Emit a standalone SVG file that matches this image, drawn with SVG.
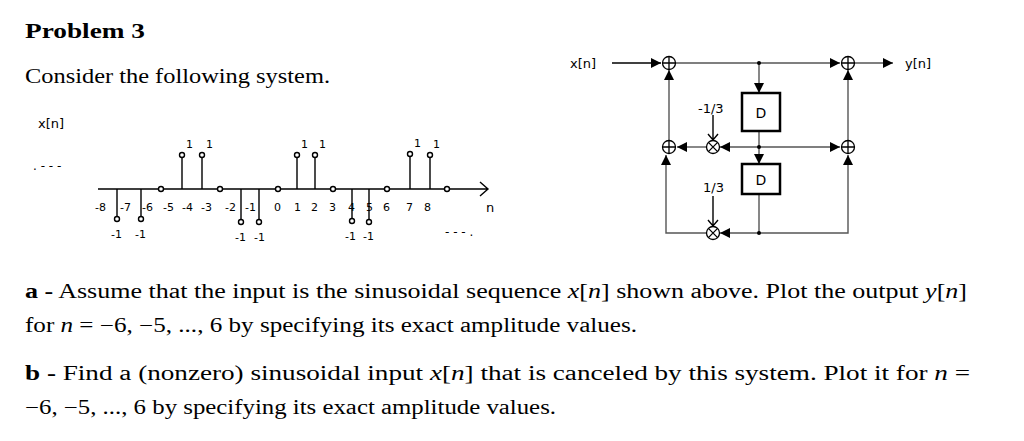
<svg xmlns="http://www.w3.org/2000/svg" width="1024" height="441" viewBox="0 0 1024 441">
<defs>
<marker id="ah" viewBox="0 0 10 10" refX="10" refY="5" markerWidth="10" markerHeight="10" markerUnits="userSpaceOnUse" orient="auto"><path d="M0,0 L10,5 L0,10 z" fill="#000"/></marker>
<g id="add"><circle r="6.5" fill="#fff" stroke="#000" stroke-width="1.3"/><path d="M-6.5,0H6.5M0,-6.5V6.5" stroke="#000" stroke-width="1.3"/></g>
<g id="mul"><circle r="6.5" fill="#fff" stroke="#000" stroke-width="1.3"/><path d="M-4.6,-4.6L4.6,4.6M-4.6,4.6L4.6,-4.6" stroke="#000" stroke-width="1.3"/></g>
</defs>
<style>
.t{font-family:"Liberation Serif",serif;font-size:20px;fill:#000}
.h{font-family:"Comic Sans MS","DejaVu Sans",sans-serif;fill:#000}
.s{stroke:#000;stroke-width:1.4;fill:none}
.w{stroke:#555;stroke-width:1.4;fill:none}
.stem{stroke:#000;stroke-width:1.4}
.d{fill:#fff;stroke:#000;stroke-width:1.4}
.box{fill:#fff;stroke:#000;stroke-width:2.5}
</style>
<rect width="1024" height="441" fill="#fff"/>
<text x="25" y="38" class="t" font-weight="bold" textLength="120" lengthAdjust="spacingAndGlyphs">Problem 3</text>
<text x="25" y="83" class="t" textLength="305" lengthAdjust="spacingAndGlyphs">Consider the following system.</text>

<g id="stemplot">
<text x="38" y="128" class="h" font-size="13">x[n]</text>
<text x="33" y="170" class="h" font-size="12">. - - -</text>
<text x="445" y="236" class="h" font-size="12">- - - .</text>
<path class="s" d="M98,189H488M480,182L488,189L480,196"/>
<text x="486" y="212" class="h" font-size="13">n</text>
<g class="stem">
<path d="M117,189V219M141,189V219M182,189V155M202,189V155M241,189V222M259,189V222M297,189V155M315,189V155M352,189V221M369,189V222M410,189V154M430,189V155"/>
</g>
<g>
<circle class="d" cx="117" cy="219" r="2.5"/><circle class="d" cx="141" cy="219" r="2.5"/>
<circle class="d" cx="182" cy="155" r="2.5"/><circle class="d" cx="202" cy="155" r="2.5"/>
<circle class="d" cx="241" cy="222" r="2.5"/><circle class="d" cx="259" cy="222" r="2.5"/>
<circle class="d" cx="297" cy="155" r="2.5"/><circle class="d" cx="315" cy="155" r="2.5"/>
<circle class="d" cx="352" cy="221" r="2.5"/><circle class="d" cx="369" cy="222" r="2.5"/>
<circle class="d" cx="410" cy="154" r="2.5"/><circle class="d" cx="430" cy="155" r="2.5"/>
<circle class="d" cx="161" cy="189" r="2.5"/><circle class="d" cx="220" cy="189" r="2.5"/>
<circle class="d" cx="278" cy="189" r="2.5"/><circle class="d" cx="333" cy="189" r="2.5"/>
<circle class="d" cx="387" cy="189" r="2.5"/><circle class="d" cx="447" cy="189" r="2.5"/>
</g>
<g class="h" font-size="11">
<text x="95" y="211">-8</text><text x="120" y="211">-7</text><text x="142" y="211">-6</text><text x="163" y="211">-5</text><text x="182" y="211">-4</text><text x="201" y="211">-3</text><text x="225" y="211">-2</text><text x="245" y="211">-1</text><text x="274" y="211">0</text><text x="294" y="211">1</text><text x="311" y="211">2</text><text x="329" y="211">3</text><text x="348" y="211">4</text><text x="366" y="211">5</text><text x="383" y="211">6</text><text x="406" y="211">7</text><text x="424" y="211">8</text>
<text x="186" y="148">1</text><text x="206" y="148">1</text><text x="301" y="148">1</text><text x="319" y="148">1</text><text x="414" y="147">1</text><text x="433" y="148">1</text>
<text x="111" y="238">-1</text><text x="135" y="238">-1</text><text x="235" y="241">-1</text><text x="254" y="241">-1</text><text x="345" y="240">-1</text><text x="363" y="240">-1</text>
</g>
</g>

<g id="connectors">
<path class="s" d="M612,63H661" marker-end="url(#ah)"/>
<path class="w" d="M676,63H840" marker-end="url(#ah)"/>
<path class="w" d="M855,63H893" marker-end="url(#ah)"/>
<path class="w" d="M759,63V93" marker-end="url(#ah)"/>
<path class="w" d="M759,131V164" marker-end="url(#ah)"/>
<path class="w" d="M759,147H720" marker-end="url(#ah)"/>
<path class="w" d="M759,147H840" marker-end="url(#ah)"/>
<path class="w" d="M706,147H677" marker-end="url(#ah)"/>
<path class="w" d="M669,140V70" marker-end="url(#ah)"/>
<path class="w" d="M848,140V70" marker-end="url(#ah)"/>
<path class="w" d="M759,194V233H720" marker-end="url(#ah)"/>
<path class="w" d="M759,233H848V155" marker-end="url(#ah)"/>
<path class="w" d="M706,233H666V155" marker-end="url(#ah)"/>
<path class="s" d="M713,115V139M708,134L713,140L718,134M713,196V225M708,220L713,226L718,220"/>
<circle cx="759" cy="63" r="2"/><circle cx="759" cy="147" r="2"/><circle cx="759" cy="233" r="2"/>
</g>
<text x="570" y="68" class="h" font-size="13">x[n]</text>
<text x="905" y="68" class="h" font-size="13">y[n]</text>
<g id="add1"><use href="#add" x="669" y="63"/></g>
<g id="add2"><use href="#add" x="848" y="63"/></g>
<g id="add3"><use href="#add" x="669" y="147"/></g>
<g id="add4"><use href="#add" x="848" y="147"/></g>
<g id="mul1"><use href="#mul" x="713" y="147"/><text x="698" y="113" class="h" font-size="13">-1/3</text></g>
<g id="mul2"><use href="#mul" x="713" y="233"/><text x="703" y="192" class="h" font-size="13">1/3</text></g>
<g id="delay1"><rect class="box" x="742" y="93" width="38" height="38"/><text x="761" y="118" class="h" font-size="14" text-anchor="middle">D</text></g>
<g id="delay2"><rect class="box" x="742" y="164" width="38" height="30"/><text x="761" y="185" class="h" font-size="14" text-anchor="middle">D</text></g>

<text x="25" y="298" class="t" textLength="942" lengthAdjust="spacingAndGlyphs"><tspan font-weight="bold">a -</tspan> Assume that the input is the sinusoidal sequence <tspan font-style="italic">x</tspan>[<tspan font-style="italic">n</tspan>] shown above. Plot the output <tspan font-style="italic">y</tspan>[<tspan font-style="italic">n</tspan>]</text>
<text x="25" y="332" class="t" textLength="612" lengthAdjust="spacingAndGlyphs">for <tspan font-style="italic">n</tspan> = −6, −5, ..., 6 by specifying its exact amplitude values.</text>
<text x="25" y="380" class="t" textLength="945" lengthAdjust="spacingAndGlyphs"><tspan font-weight="bold">b -</tspan> Find a (nonzero) sinusoidal input <tspan font-style="italic">x</tspan>[<tspan font-style="italic">n</tspan>] that is canceled by this system. Plot it for <tspan font-style="italic">n</tspan> =</text>
<text x="25" y="414" class="t" textLength="531" lengthAdjust="spacingAndGlyphs">−6, −5, ..., 6 by specifying its exact amplitude values.</text>
</svg>
